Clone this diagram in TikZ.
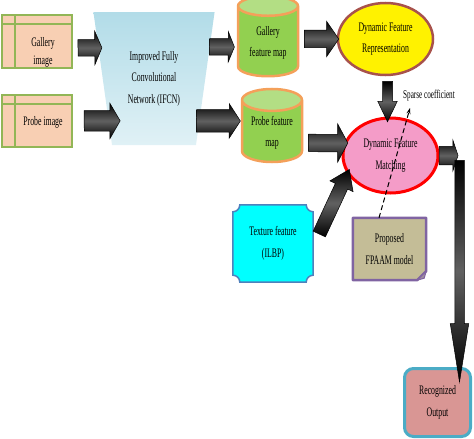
\documentclass[tikz,border=0pt]{standalone}
\usepackage{fontspec}
\setmainfont[FakeStretch=0.6]{Liberation Serif}
\usetikzlibrary{shapes.geometric,shapes.arrows,calc,arrows.meta,backgrounds}

\definecolor{peach}{HTML}{F8CFB3}
\definecolor{boxgreen}{HTML}{92B656}
\definecolor{ifcnblue}{HTML}{B2DCE8}
\definecolor{mapgreen}{HTML}{92D050}
\definecolor{maporange}{HTML}{F4A05A}
\definecolor{dfrborder}{HTML}{A8524C}
\definecolor{dfmpink}{HTML}{F49CC8}
\definecolor{texcyan}{HTML}{00FFFF}
\definecolor{texborder}{HTML}{4F81BD}
\definecolor{khaki}{HTML}{C4BD97}
\definecolor{propurple}{HTML}{8064A2}
\definecolor{outrose}{HTML}{D99694}
\definecolor{outteal}{HTML}{4BACC6}

\tikzset{
  imgbox/.style={draw=boxgreen, line width=2.5pt, fill=peach,
    minimum width=70pt, minimum height=53pt,
    path picture={\draw[boxgreen, line width=2.5pt]
      ([yshift=-9pt]path picture bounding box.north west) -- ([yshift=-9pt]path picture bounding box.north east)
      ([xshift=13pt]path picture bounding box.north west) -- ([xshift=13pt]path picture bounding box.south west);}},
  fmap/.style={cylinder, shape border rotate=90, aspect=0.5, draw=maporange, line width=2.5pt,
    cylinder uses custom fill, cylinder body fill=mapgreen, cylinder end fill=mapgreen!70!white,
    minimum width=60pt, minimum height=80pt, align=center, inner sep=1pt},
  fatarrow/.style={single arrow, draw=black, line width=0.5pt, inner xsep=0pt,
    top color=black, bottom color=black, middle color=black!62}
}

% block arrow between two points
\newcommand{\fatarrow}[3][]{%
  \path let \p1=(#2), \p2=(#3), \n1={veclen(\x2-\x1,\y2-\y1)}, \n2={atan2(\y2-\y1,\x2-\x1)} in
    node[fatarrow, #1, minimum height=\n1, rotate=\n2] at ($(\p1)!0.5!(\p2)$) {};}

\begin{document}
\begin{tikzpicture}[x=1pt, y=-1pt, font=\fontsize{13}{21.5}\selectfont]
  \useasboundingbox (0,0) rectangle (474,439);
  % Input images
  \node[imgbox] (gal) at (37,41.5) {};
  \node[align=center, font=\fontsize{13}{18}\selectfont] (galtxt) at (43,52) {Gallery\\image};
  \node[imgbox, minimum height=52pt] (pim) at (37,121) {};
  \node (pimtxt) at (43,122) {Probe image};
  % Network
  \node[trapezium, trapezium left angle=102, trapezium right angle=102, trapezium stretches=true,
    minimum width=122pt, minimum height=133pt, top color=ifcnblue, bottom color=ifcnblue!40!white,
    align=center] (ifcn) at (154,78.5) {Improved Fully\\Convolutional\\Network (IFCN)};
  % Feature maps
  \node[fmap] (gfm) at (268,43) {Gallery\\feature map};
  \node[fmap, minimum height=73pt] (pfm) at (272,133) {Probe feature\\map};
  % Dynamic feature blocks
  \node[ellipse, fill=yellow, draw=dfrborder, line width=2.5pt, minimum width=95pt,
    minimum height=72pt, align=center] (dfr) at (385.5,39) {Dynamic Feature\\Representation};
  \node[ellipse, fill=dfmpink, draw=red, line width=3pt, minimum width=95pt,
    minimum height=75pt, align=center] (dfm) at (390.5,155.5) {Dynamic Feature\\Matching};
  \node[font=\fontsize{12}{14}\selectfont] (sparse) at (429,96) {Sparse coefficient};
  % Texture feature and proposed model
  \node[minimum width=80pt, minimum height=77pt, align=center] (tex) at (273,243.5) {Texture feature\\(ILBP)};
  \node[minimum width=73pt, minimum height=62pt, align=center] (pro) at (389.5,249) {Proposed\\FPAAM model};
  \begin{scope}[on background layer]
    \filldraw[fill=texcyan, draw=texborder, line width=1.5pt]
      ([yshift=-7pt]tex.north west) arc[start angle=-90, end angle=0, radius=7pt]
      -- ([xshift=-7pt]tex.north east) arc[start angle=180, end angle=270, radius=7pt]
      -- ([yshift=7pt]tex.south east) arc[start angle=90, end angle=180, radius=7pt]
      -- ([xshift=7pt]tex.south west) arc[start angle=0, end angle=90, radius=7pt]
      -- cycle;
    \filldraw[fill=khaki, draw=propurple, line width=2.5pt, line join=round]
      (pro.north west) -- (pro.north east) -- ([yshift=9pt]pro.south east)
      -- ([xshift=-9pt]pro.south east) -- (pro.south west) -- cycle;
    \filldraw[fill=propurple!55!khaki, draw=propurple, line width=1pt, line join=round]
      ([yshift=9pt]pro.south east) -- ([xshift=-9pt]pro.south east) -- ([shift={(-2pt,2pt)}]pro.south east) -- cycle;
  \end{scope}
  % Output
  \node[draw=outteal, line width=3pt, fill=outrose, rounded corners=9pt, minimum width=66pt,
    minimum height=68pt, align=center] (out) at (437.5,402.5) {Recognized\\Output};
  % Block arrows
  \fatarrow[inner ysep=8pt, single arrow head extend=8.5pt, single arrow tip angle=134]
    {[shift={(3pt,-6.5pt)}]gal.east}{[shift={(7pt,-36pt)}]ifcn.top left corner}
  \fatarrow[inner ysep=10pt, single arrow head extend=7.5pt, single arrow tip angle=120]
    {[xshift=8pt]pim.east}{[shift={(24pt,-109pt)}]ifcn.top left corner}
  \fatarrow[inner ysep=8pt, single arrow head extend=7pt, single arrow tip angle=136]
    {[shift={(-7pt,-35pt)}]ifcn.top right corner}{[shift={(-4pt,-4pt)}]gfm.west}
  \fatarrow[inner ysep=11pt, single arrow head extend=6pt, single arrow tip angle=114]
    {[shift={(-22pt,-109pt)}]ifcn.top right corner}{[shift={(-4pt,12pt)}]pfm.west}
  \fatarrow[inner ysep=8.5pt, single arrow head extend=9pt, single arrow tip angle=111]
    {[shift={(2pt,4pt)}]gfm.east}{[xshift=-1pt]dfr.west}
  \fatarrow[inner ysep=4.75pt, single arrow head extend=4.75pt, single arrow tip angle=51]
    {[xshift=2pt]dfr.south}{[xshift=-3pt]dfm.north}
  \fatarrow[inner ysep=8.5pt, single arrow head extend=10.5pt, single arrow tip angle=124]
    {[shift={(3pt,-10pt)}]pfm.east}{[shift={(4pt,12.5pt)}]dfm.west}
  \fatarrow[inner ysep=6.5pt, single arrow head extend=6pt, single arrow tip angle=69]
    {[shift={(4pt,5pt)}]tex.east}{dfm.203}
  % Output path
  \coordinate (bend) at ($(out.north east |- dfm.east)+(-12.5pt,0)$);
  \fatarrow[inner ysep=9pt, single arrow head extend=6pt, single arrow tip angle=143]
    {[xshift=-2pt]dfm.east}{[xshift=-3pt]bend}
  \fatarrow[inner ysep=4.5pt, single arrow head extend=4.5pt, single arrow tip angle=18]
    {[yshift=10pt]bend}{[xshift=-12.5pt]out.north east}
  % Sparse coefficient link
  \coordinate (sptip) at ([shift={(-19pt,-12pt)}]sparse.center);
  \draw[dash pattern=on 5pt off 3pt, line width=1pt, -{Stealth[length=6pt,width=4pt]}]
    ([xshift=-10.5pt]pro.north) -- (sptip);
\end{tikzpicture}
\end{document}
